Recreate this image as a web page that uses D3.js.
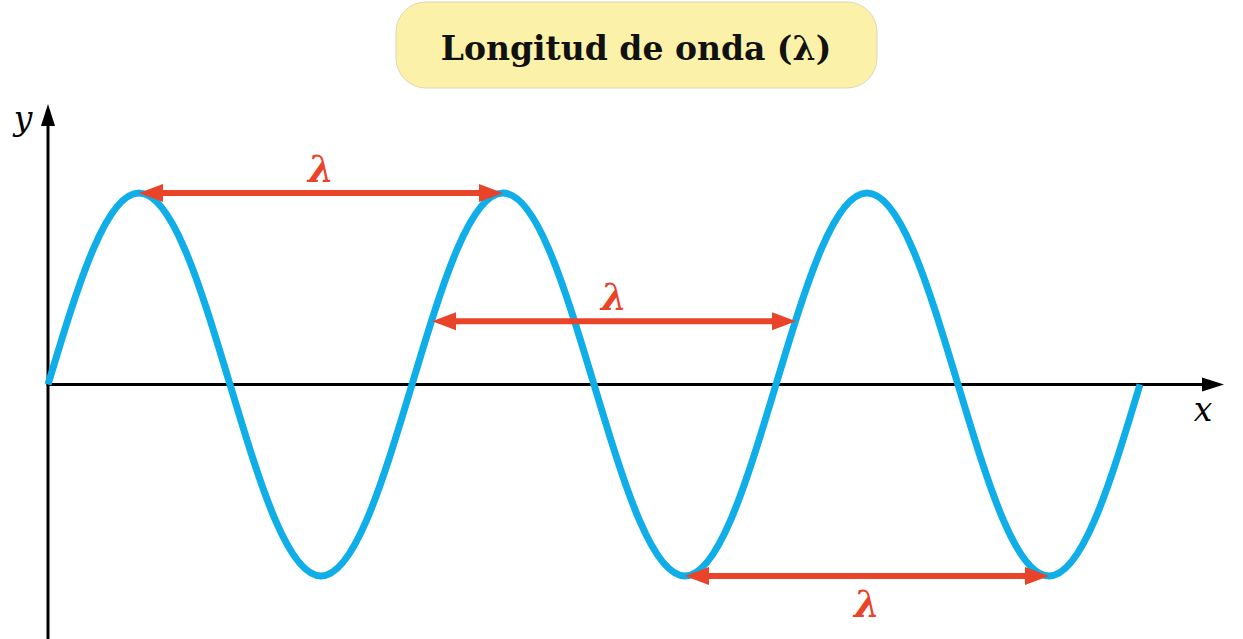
<!DOCTYPE html>
<html>
<head>
<meta charset="utf-8">
<script src="https://cdn.jsdelivr.net/npm/d3@7/dist/d3.min.js"></script>
<style>
  body { margin: 0; background: #fff; }
  svg { display: block; }
</style>
</head>
<body>
<div id="chart"></div>
<script>
var phase = [0, 0.125, 0.25, 0.375, 0.5, 0.625, 0.75, 0.875,
             1, 1.125, 1.25, 1.375, 1.5, 1.625, 1.75, 1.875,
             2, 2.125, 2.25, 2.375, 2.5, 2.625, 2.75, 2.875, 3];
var displacement = [0, 0.71, 1, 0.71, 0, -0.71, -1, -0.71,
                    0, 0.71, 1, 0.71, 0, -0.71, -1, -0.71,
                    0, 0.71, 1, 0.71, 0, -0.71, -1, -0.71, 0];

// Wavelength markers: start, end (in wavelengths) and height
var arrowFrom = [0.25, 1.055, 1.75];
var arrowTo = [1.25, 2.055, 2.75];
var arrowLevel = [1, 0.33, -1];
var arrowLabel = ["λ", "λ", "λ"];
var labelSide = [-1, -1, 1];   // above / below the arrow

var title = "Longitud de onda (λ)";

var W = 1243, H = 639;
var blue = "#10aee8", red = "#e9432a";

var svg = d3.select("#chart").append("svg")
	.attr("width", W)
	.attr("height", H);

var x = d3.scaleLinear().domain([0, 3]).range([48, 1140]);
var y = d3.scaleLinear().domain([-1, 1]).range([576, 193]);

//////// Title box ////////
svg.append("rect")
	.attr("x", 396).attr("y", 2)
	.attr("width", 481).attr("height", 86)
	.attr("rx", 30)
	.attr("fill", "#fcf1a8")
	.attr("stroke", "#dcd7b8")
	.attr("stroke-width", 1);

svg.append("text")
	.attr("x", 636).attr("y", 60)
	.attr("text-anchor", "middle")
	.attr("font-family", "DejaVu Serif, serif")
	.attr("font-weight", "bold")
	.attr("font-size", "33px")
	.attr("fill", "#111")
	.text(title);

//////// Axes ////////
var y0 = y(0), xLeft = x(0);

svg.append("line")
	.attr("x1", xLeft).attr("x2", xLeft)
	.attr("y1", H).attr("y2", 122)
	.attr("stroke", "#000").attr("stroke-width", 3);
svg.append("path")
	.attr("d", "M" + xLeft + ",104 L" + (xLeft - 7) + ",126 L" + (xLeft + 7) + ",126 Z")
	.attr("fill", "#000");

svg.append("line")
	.attr("x1", xLeft - 1.5).attr("x2", 1206)
	.attr("y1", y0).attr("y2", y0)
	.attr("stroke", "#000").attr("stroke-width", 3);
svg.append("path")
	.attr("d", "M1224," + y0 + " L1202," + (y0 - 7) + " L1202," + (y0 + 7) + " Z")
	.attr("fill", "#000");

svg.append("text")
	.attr("x", 23).attr("y", 130)
	.attr("text-anchor", "middle")
	.attr("font-family", "DejaVu Serif, serif")
	.attr("font-style", "italic")
	.attr("font-size", "33px")
	.text("y");

svg.append("text")
	.attr("x", 1203).attr("y", 421)
	.attr("text-anchor", "middle")
	.attr("font-family", "DejaVu Serif, serif")
	.attr("font-style", "italic")
	.attr("font-size", "33px")
	.text("x");

//////// Wave ////////
var wave = phase.map(function(p, i){ return [p, displacement[i]]; });

svg.append("path")
	.datum(wave)
	.attr("d", d3.line()
		.x(function(d){ return x(d[0]); })
		.y(function(d){ return y(d[1]); })
		.curve(d3.curveNatural))
	.attr("fill", "none")
	.attr("stroke", blue)
	.attr("stroke-width", 7);

//////// Wavelength arrows ////////
var arrows = arrowFrom.map(function(f, i){
	return { from: f, to: arrowTo[i], level: arrowLevel[i], label: arrowLabel[i], side: labelSide[i] };
});

var head = 24, half = 9;
var g = svg.selectAll("g.arrow")
	.data(arrows)
	.enter().append("g")
	.attr("class", "arrow");

g.append("line")
	.attr("x1", function(d){ return x(d.from) + head - 2; })
	.attr("x2", function(d){ return x(d.to) - head + 2; })
	.attr("y1", function(d){ return y(d.level); })
	.attr("y2", function(d){ return y(d.level); })
	.attr("stroke", red)
	.attr("stroke-width", 6);

g.append("path")
	.attr("d", function(d){
		var a = x(d.from), b = x(d.to), yy = y(d.level);
		return "M" + a + "," + yy + " L" + (a + head) + "," + (yy - half) + " L" + (a + head) + "," + (yy + half) + " Z" +
			"M" + b + "," + yy + " L" + (b - head) + "," + (yy - half) + " L" + (b - head) + "," + (yy + half) + " Z";
	})
	.attr("fill", red);

g.append("text")
	.attr("x", function(d){ return (x(d.from) + x(d.to)) / 2; })
	.attr("y", function(d){ return y(d.level) + (d.side < 0 ? -11 : 41); })
	.attr("text-anchor", "middle")
	.attr("font-family", "DejaVu Serif, serif")
	.attr("font-style", "italic")
	.attr("font-weight", "bold")
	.attr("font-size", "37px")
	.attr("fill", red)
	.text(function(d){ return d.label; });
</script>
</body>
</html>
